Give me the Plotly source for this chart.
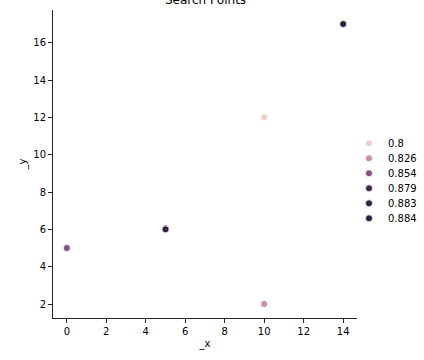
import numpy as np
import plotly.graph_objects as go

# data
hue_labels = ["0.8", "0.826", "0.854", "0.879", "0.883", "0.884"]
hue_values = [0.8, 0.826, 0.854, 0.879, 0.883, 0.884]
x_vals = [10, 10, 0, 5, 5, 14]
y_vals = [12, 2, 5, 6.05, 6, 17]

x_ticks = [0, 2, 4, 6, 8, 10, 12, 14]
y_ticks = [2, 4, 6, 8, 10, 12, 14, 16]


def cubehelix(t, start=0.0, rot=0.4, gamma=1.0, hue=0.8, light=0.85, dark=0.15):
    x = light + (dark - light) * t
    xg = x ** gamma
    a = hue * xg * (1 - xg) / 2
    phi = 2 * np.pi * (start / 3 + rot * x)
    r = xg + a * (-0.14861 * np.cos(phi) + 1.78277 * np.sin(phi))
    g = xg + a * (-0.29227 * np.cos(phi) - 0.90649 * np.sin(phi))
    b = xg + a * (1.97294 * np.cos(phi))
    c = [int(round(255 * min(max(v, 0), 1))) for v in (r, g, b)]
    return "rgb(%d,%d,%d)" % tuple(c)


vmin, vmax = min(hue_values), max(hue_values)
colors = [cubehelix((v - vmin) / (vmax - vmin)) for v in hue_values]

W, H = 424, 360
ML, MT, MB = 53, 10, 42
paper_w = W - ML
main_frac = 304 / paper_w
leg_start = ML + 304 + 3  # pixel where legend axis starts

fig = go.Figure()
for lab, col, xv, yv in zip(hue_labels, colors, x_vals, y_vals):
    fig.add_trace(go.Scatter(
        x=[xv], y=[yv], mode="markers", name=lab, showlegend=False,
        marker=dict(size=7, color=col, line=dict(width=0.75, color="white")),
    ))

# legend drawn on an auxiliary axis (row index)
rows = list(range(len(hue_labels)))
fig.add_trace(go.Scatter(
    x=[0] * len(rows), y=rows, xaxis="x2", yaxis="y2", mode="markers",
    showlegend=False, hoverinfo="skip", cliponaxis=False,
    marker=dict(size=7, color=colors, line=dict(width=0.75, color="white")),
))
for r, lab in zip(rows, hue_labels):
    fig.add_annotation(text=lab, x=1, y=r, xref="x2", yref="y2", xanchor="left",
                       yanchor="middle", showarrow=False,
                       font=dict(family="DejaVu Sans", size=10, color="black"))

axis_common = dict(
    showgrid=False, zeroline=False, showline=True, linecolor="#262626", linewidth=1,
    ticks="outside", ticklen=4, tickwidth=1, tickcolor="#262626",
    tickfont=dict(family="DejaVu Sans", size=10, color="black"),
    mirror=False,
)
fig.update_layout(
    xaxis=dict(domain=[0, main_frac], range=[-0.7, 14.7], tickvals=x_ticks,
               title=dict(text="_x", font=dict(family="DejaVu Sans", size=10, color="black"), standoff=3),
               **axis_common),
    yaxis=dict(range=[1.25, 17.75], tickvals=y_ticks,
               title=dict(text="_y", font=dict(family="DejaVu Sans", size=10, color="black"), standoff=4),
               **axis_common),
    # legend axis: x in units of 17px (marker->text gap), y in rows of 15px
    xaxis2=dict(domain=[(leg_start - ML) / paper_w, 1],
                range=[(leg_start - 369) / 17, (W - 369) / 17],
                visible=False, fixedrange=True),
    yaxis2=dict(domain=[0, 1], range=[(H - MB - 143.3) / 15, (MT - 143.3) / 15],
                anchor="x2", visible=False, fixedrange=True),
)

fig.add_annotation(text="Search Points", xref="paper", yref="paper", x=main_frac / 2, y=1.032,
                   xanchor="center", yanchor="middle", showarrow=False,
                   font=dict(family="DejaVu Sans", size=12, color="black"))

fig.update_layout(
    width=W, height=H,
    margin=dict(l=ML, r=0, t=MT, b=MB),
    plot_bgcolor="white", paper_bgcolor="white",
    showlegend=False,
)

fig.write_html("out.html")
